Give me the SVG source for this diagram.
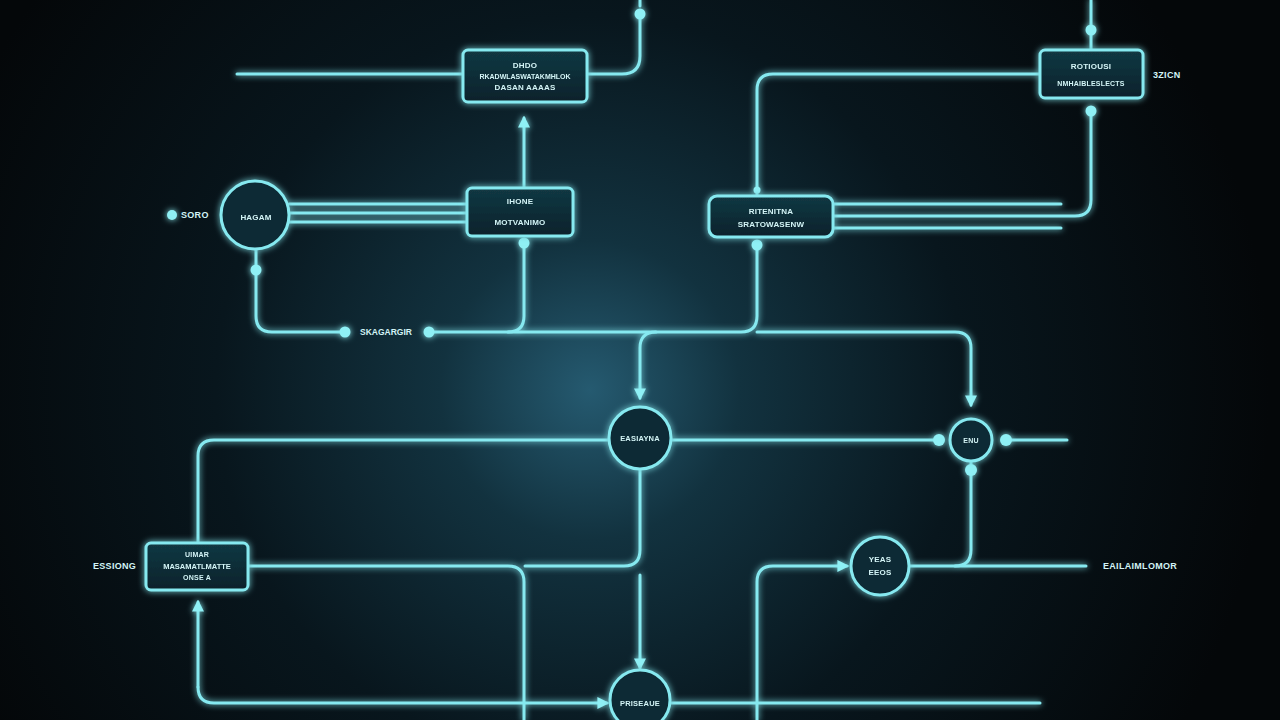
<svg xmlns="http://www.w3.org/2000/svg" width="1280" height="720" viewBox="0 0 1280 720">
  <defs>
    <radialGradient id="bg" cx="590" cy="390" r="680" gradientUnits="userSpaceOnUse">
      <stop offset="0" stop-color="#255a70"/>
      <stop offset="0.22" stop-color="#12323f"/>
      <stop offset="0.55" stop-color="#08161d"/>
      <stop offset="1" stop-color="#040709"/>
    </radialGradient>
    <linearGradient id="boxfill" x1="0" y1="0" x2="0" y2="1">
      <stop offset="0" stop-color="#123843"/>
      <stop offset="1" stop-color="#0b222b"/>
    </linearGradient>
    <filter id="glow" x="-20%" y="-20%" width="140%" height="140%">
      <feGaussianBlur in="SourceGraphic" stdDeviation="3" result="b"/>
      <feMerge><feMergeNode in="b"/><feMergeNode in="SourceGraphic"/></feMerge>
    </filter>
    <marker id="arr" viewBox="0 0 10 10" refX="8" refY="5" markerWidth="4" markerHeight="4" orient="auto">
      <path d="M0,0 L10,5 L0,10 z" fill="#8ff0f5"/>
    </marker>
    <style>
      .ln{fill:none;stroke:#86e9f0;stroke-width:3;stroke-linecap:round}
      .box{fill:url(#boxfill);stroke:#86e9f0;stroke-width:3}
      .circ{fill:#0e2a34;stroke:#86e9f0;stroke-width:3}
      .dot{fill:#8ff0f5}
      .t{font-family:"Liberation Sans",Arial,sans-serif;font-weight:bold;font-size:8px;fill:#d3f4f6;text-anchor:middle;letter-spacing:0.2px}
      .lbl{font-family:"Liberation Sans",Arial,sans-serif;font-weight:bold;font-size:9px;fill:#d3f4f6;letter-spacing:0.3px}
    </style>
  </defs>
  <rect width="1280" height="720" fill="url(#bg)"/>

  <g id="connectors" filter="url(#glow)">
    <path class="ln" d="M237,74 H463"/>
    <path class="ln" d="M587,74 H622 Q640,74 640,56 V14"/>
    <path class="ln" d="M640,0 V6"/>
    <path class="ln" d="M524,188 V118" marker-end="url(#arr)"/>
    <path class="ln" d="M524,243 V316 Q524,332 508,332 H429"/>
    <path class="ln" d="M256,249 V316 Q256,332 272,332 H345"/>
    <path class="ln" d="M508,332 H741 Q757,332 757,316 V245"/>
    <path class="ln" d="M656,332 Q640,332 640,348 V398" marker-end="url(#arr)"/>
    <path class="ln" d="M757,332 H955 Q971,332 971,348 V405" marker-end="url(#arr)"/>
    <path class="ln" d="M289,204 H467"/>
    <path class="ln" d="M290,213 H467"/>
    <path class="ln" d="M289,222 H467"/>
    <path class="ln" d="M833,204 H1061"/>
    <path class="ln" d="M833,216 H1075 Q1091,216 1091,200 V111"/>
    <path class="ln" d="M833,228 H1061"/>
    <path class="ln" d="M757,196 V90 Q757,74 773,74 H1040"/>
    <path class="ln" d="M1091,50 V0"/>
    <path class="ln" d="M609,440 H214 Q198,440 198,456 V543"/>
    <path class="ln" d="M671,440 H934"/>
    <path class="ln" d="M1006,440 H1067"/>
    <path class="ln" d="M640,469 V550 Q640,566 624,566 H525"/>
    <path class="ln" d="M640,575 V668" marker-end="url(#arr)"/>
    <path class="ln" d="M248,566 H508 Q524,566 524,582 V720"/>
    <path class="ln" d="M198,687 V602" marker-end="url(#arr)"/>
    <path class="ln" d="M198,687 Q198,703 214,703 H607" marker-end="url(#arr)"/>
    <path class="ln" d="M670,703 H1040"/>
    <path class="ln" d="M757,720 V582 Q757,566 773,566 H847" marker-end="url(#arr)"/>
    <path class="ln" d="M909,566 H1086"/>
    <path class="ln" d="M971,461 V550 Q971,566 955,566"/>
    <circle class="dot" cx="640" cy="14" r="5.5"/>
    <circle class="dot" cx="1091" cy="30" r="5.5"/>
    <circle class="dot" cx="1091" cy="111" r="5.5"/>
    <circle class="dot" cx="524" cy="243" r="5.5"/>
    <circle class="dot" cx="757" cy="245" r="5.5"/>
    <circle class="dot" cx="757" cy="190" r="3.5"/>
    <circle class="dot" cx="256" cy="270" r="5.5"/>
    <circle class="dot" cx="345" cy="332" r="5.5"/>
    <circle class="dot" cx="429" cy="332" r="5.5"/>
    <circle class="dot" cx="939" cy="440" r="6"/>
    <circle class="dot" cx="1006" cy="440" r="6"/>
    <circle class="dot" cx="971" cy="470" r="6"/>
    <circle class="dot" cx="172" cy="215" r="5"/>
  </g>

  <g id="box1" filter="url(#glow)">
    <rect class="box" x="463" y="50" width="124" height="52" rx="5"/>
    <text class="t" x="525" y="68">DHDO</text>
    <text class="t" x="525" y="79" style="font-size:7px;letter-spacing:0">RKADWLASWATAKMHLOK</text>
    <text class="t" x="525" y="90">DASAN AAAAS</text>
  </g>
  <g id="boxTopRight" filter="url(#glow)">
    <rect class="box" x="1040" y="50" width="103" height="48" rx="5"/>
    <text class="t" x="1091" y="69">ROTIOUSI</text>
    <text class="t" x="1091" y="86" style="font-size:7px">NMHAIBLESLECTS</text>
  </g>
  <g id="label3zicn"><text class="lbl" x="1153" y="78">3ZICN</text></g>

  <g id="circleLeft" filter="url(#glow)">
    <circle class="circ" cx="255" cy="215" r="34"/>
    <text class="t" x="256" y="220">HAGAM</text>
  </g>
  <g id="labelSoro"><text class="lbl" x="181" y="218">SORO</text></g>

  <g id="box2" filter="url(#glow)">
    <rect class="box" x="467" y="188" width="106" height="48" rx="5"/>
    <text class="t" x="520" y="204">IHONE</text>
    <text class="t" x="520" y="225">MOTVANIMO</text>
  </g>
  <g id="box3" filter="url(#glow)">
    <rect class="box" x="709" y="196" width="124" height="41" rx="8"/>
    <text class="t" x="771" y="214">RITENITNA</text>
    <text class="t" x="771" y="227">SRATOWASENW</text>
  </g>
  <g id="labelSkagargir"><text class="lbl" x="360" y="335" style="font-size:8.5px;letter-spacing:0">SKAGARGIR</text></g>

  <g id="circleCenter" filter="url(#glow)">
    <circle class="circ" cx="640" cy="438" r="31"/>
    <text class="t" x="640" y="441" style="font-size:7.5px">EASIAYNA</text>
  </g>
  <g id="circleSmall" filter="url(#glow)">
    <circle class="circ" cx="971" cy="440" r="21"/>
    <text class="t" x="971" y="443" style="font-size:7px">ENU</text>
  </g>

  <g id="box4" filter="url(#glow)">
    <rect class="box" x="146" y="543" width="102" height="47" rx="5"/>
    <text class="t" x="197" y="557" style="font-size:7px">UIMAR</text>
    <text class="t" x="197" y="569" style="font-size:7.5px;letter-spacing:0">MASAMATLMATTE</text>
    <text class="t" x="197" y="580" style="font-size:7px">ONSE A</text>
  </g>
  <g id="labelEssiong"><text class="lbl" x="93" y="569">ESSIONG</text></g>

  <g id="circleRight" filter="url(#glow)">
    <circle class="circ" cx="880" cy="566" r="29"/>
    <text class="t" x="880" y="562">YEAS</text>
    <text class="t" x="880" y="575">EEOS</text>
  </g>
  <g id="labelRight"><text class="lbl" x="1103" y="569">EAILAIMLOMOR</text></g>

  <g id="circleBottom" filter="url(#glow)">
    <circle class="circ" cx="640" cy="700" r="30"/>
    <text class="t" x="640" y="706" style="font-size:7.5px">PRISEAUE</text>
  </g>
</svg>
